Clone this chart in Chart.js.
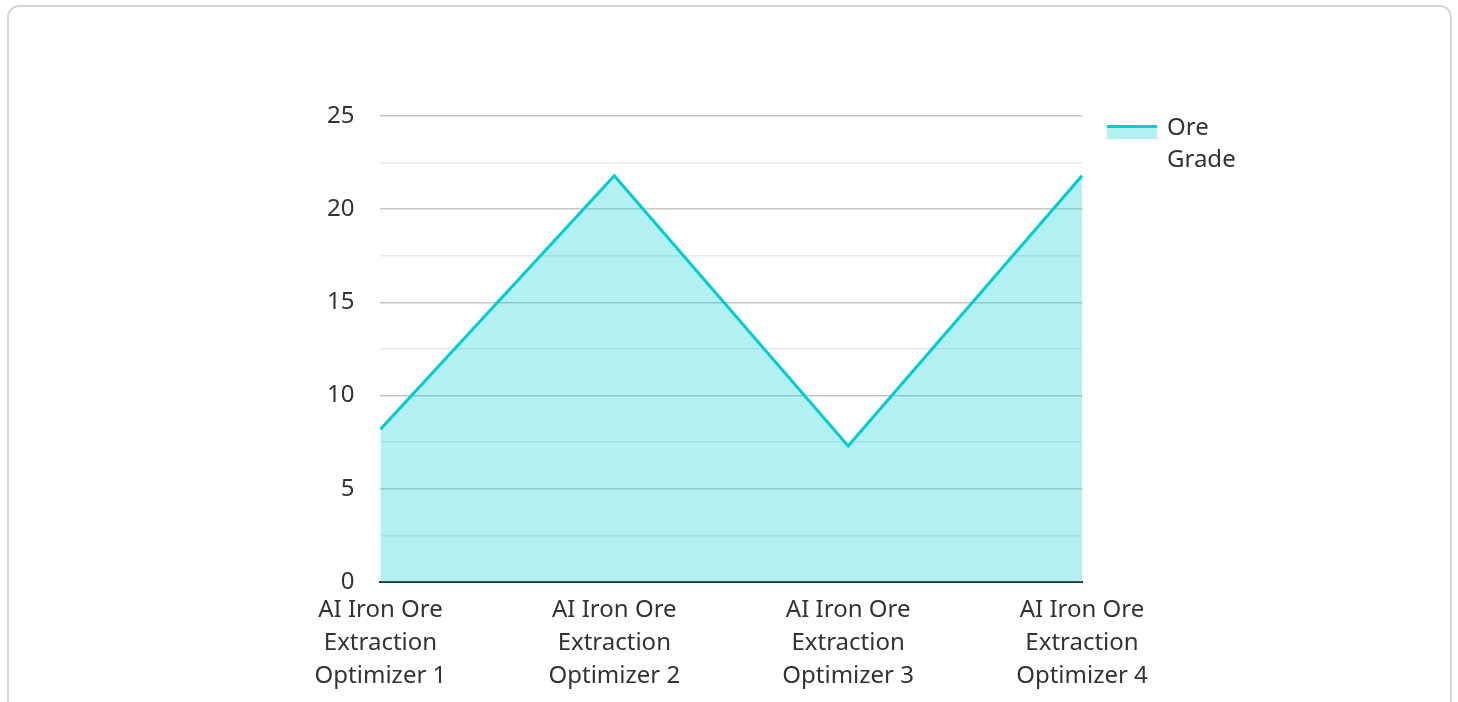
<!DOCTYPE html>
<html>
<head>
<meta charset="utf-8">
<script src="https://cdn.jsdelivr.net/npm/chart.js@4.4.1/dist/chart.umd.min.js"></script>
<style>
  html, body { margin: 0; padding: 0; background: #fff; overflow: hidden; }
  .card {
    position: absolute; left: 7px; top: 5px; width: 1445px; height: 720px;
    border: 2px solid #d6d6d6; border-radius: 12px; box-sizing: border-box;
  }
  .wrap { position: absolute; left: 0; top: 0; width: 1458px; height: 715px; }
</style>
</head>
<body>
<div class="card"></div>
<div class="wrap"><canvas id="chart"></canvas></div>
<script>
// 数据
const categories = [
    ['AI Iron Ore', 'Extraction', 'Optimizer 1'],
    ['AI Iron Ore', 'Extraction', 'Optimizer 2'],
    ['AI Iron Ore', 'Extraction', 'Optimizer 3'],
    ['AI Iron Ore', 'Extraction', 'Optimizer 4']
];
const oreGrade = [8.2, 21.8, 7.3, 21.8];
const seriesName = ['Ore', 'Grade'];
const yMax = 25;
const yStep = 2.5;

const LINE = '#00CED1';
const FILL = 'rgba(0,206,209,0.3)';
const TEXT = '#333333';
const FONT = "'Noto Sans', 'Open Sans', sans-serif";

// 右侧图例（两行文字）
const sideLegend = {
    id: 'sideLegend',
    afterDraw(chart) {
        const { ctx, chartArea } = chart;
        const x = chartArea.right + 25;
        const y = chartArea.top + 9;
        ctx.save();
        ctx.fillStyle = FILL;
        ctx.fillRect(x, y, 50, 14);
        ctx.fillStyle = LINE;
        ctx.fillRect(x, y, 50, 3);
        ctx.fillStyle = TEXT;
        ctx.font = '24px ' + FONT;
        ctx.textBaseline = 'middle';
        seriesName.forEach((t, i) => ctx.fillText(t, x + 60, y + 3 + i * 32));
        ctx.restore();
    }
};

new Chart(document.getElementById('chart'), {
    type: 'line',
    data: {
        labels: categories,
        datasets: [{
            label: seriesName.join(' '),
            data: oreGrade,
            borderColor: LINE,
            backgroundColor: FILL,
            borderWidth: 3,
            pointRadius: 0,
            fill: 'origin',
            tension: 0
        }]
    },
    options: {
        responsive: true,
        maintainAspectRatio: false,
        animation: false,
        layout: { padding: { left: 301, right: 376, top: 116, bottom: 10 } },
        scales: {
            x: {
                offset: false,
                grid: { display: false, drawTicks: false },
                border: { display: true, color: '#333', width: 2 },
                ticks: { color: TEXT, font: { size: 24, family: FONT, lineHeight: 1.375 }, padding: 12, maxRotation: 0 }
            },
            y: {
                min: 0,
                max: yMax,
                grid: {
                    drawTicks: false,
                    color: (c) => (c.tick && c.tick.value % 5 === 0) ? 'rgba(0,0,0,0.22)' : 'rgba(0,0,0,0.09)',
                    lineWidth: 1.5
                },
                border: { display: false },
                ticks: {
                    stepSize: yStep,
                    color: TEXT,
                    padding: 26,
                    font: { size: 24, family: FONT },
                    callback: (v) => (v % 5 === 0 ? String(v) : '')
                }
            }
        },
        plugins: {
            legend: { display: false },
            tooltip: { enabled: false }
        }
    },
    plugins: [sideLegend]
});
</script>
</body>
</html>
